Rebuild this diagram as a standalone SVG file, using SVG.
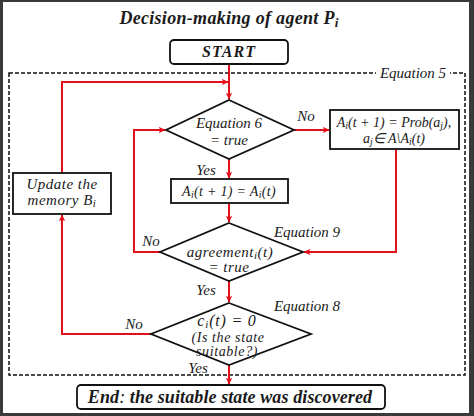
<svg xmlns="http://www.w3.org/2000/svg" width="474" height="416" viewBox="0 0 474 416">
<defs>
<style>
.t{font-family:"Liberation Serif","Times New Roman",serif;font-style:italic;fill:#1a1a1a;}
.b{font-weight:bold;}
.node{fill:#fff;stroke:#111;stroke-width:1.8;}
.red{fill:none;stroke:#e3101b;stroke-width:2;}
</style>
<marker id="ah" viewBox="0 0 10 10" refX="9" refY="5" markerWidth="7" markerHeight="7" markerUnits="userSpaceOnUse" orient="auto">
<path d="M0,0.5 L10,5 L0,9.5 L2.5,5 Z" fill="#e3101b"/>
</marker>
</defs>
<rect x="0" y="0" width="474" height="416" fill="#3a3a3a"/>
<rect x="3" y="2" width="466" height="411" fill="#fff"/>
<text class="t b" x="229" y="24" font-size="18" text-anchor="middle" letter-spacing="0.3">Decision-making of agent P<tspan font-size="13" dy="3">i</tspan></text>

<g id="frame">
<rect x="9" y="73" width="456" height="302" fill="none" stroke="#111" stroke-width="1.5" stroke-dasharray="4,2"/>
<rect x="376" y="66" width="74" height="14" fill="#fff"/>
<text class="t" x="413" y="78" font-size="15" text-anchor="middle">Equation 5</text>
</g>

<g id="connectors">
<path class="red" d="M229,64 V99" marker-end="url(#ah)"/>
<path class="red" d="M62,173 V82 H228" marker-end="url(#ah)"/>
<path class="red" d="M294,130 H329" marker-end="url(#ah)"/>
<path class="red" d="M396,149 V252 H304" marker-end="url(#ah)"/>
<path class="red" d="M229,159 V178" marker-end="url(#ah)"/>
<path class="red" d="M229,203 V222" marker-end="url(#ah)"/>
<path class="red" d="M160,252 H134 V130 H165" marker-end="url(#ah)"/>
<path class="red" d="M229,281 V302" marker-end="url(#ah)"/>
<path class="red" d="M151,334 H62 V215" marker-end="url(#ah)"/>
<path class="red" d="M229,365 V384" marker-end="url(#ah)"/>
<text class="t" x="306" y="121" font-size="15" text-anchor="middle">No</text>
<text class="t" x="206" y="175" font-size="15" text-anchor="middle">Yes</text>
<text class="t" x="151" y="246" font-size="15" text-anchor="middle">No</text>
<text class="t" x="206" y="295" font-size="15" text-anchor="middle">Yes</text>
<text class="t" x="134" y="329" font-size="15" text-anchor="middle">No</text>
<text class="t" x="198" y="373" font-size="15" text-anchor="middle">Yes</text>
</g>

<g id="start">
<rect class="node" x="170" y="40" width="118" height="24" rx="4"/>
<text class="t b" x="229" y="57" font-size="16" text-anchor="middle" letter-spacing="1">START</text>
</g>

<g id="eq6">
<polygon class="node" points="229,100 294,130 229,159 166,130"/>
<text class="t" x="229" y="128" font-size="15" text-anchor="middle">Equation 6</text>
<text class="t" x="229" y="145" font-size="15" text-anchor="middle">= true</text>
</g>

<g id="prob">
<rect class="node" x="330" y="110" width="129" height="39"/>
<text class="t" x="394" y="127" font-size="14" text-anchor="middle">A<tspan font-size="10" dy="2">i</tspan><tspan dy="-2">(t + 1) = Prob(a</tspan><tspan font-size="10" dy="2">j</tspan><tspan dy="-2">),</tspan></text>
<text class="t" x="394" y="143" font-size="14" text-anchor="middle">a<tspan font-size="10" dy="2">j</tspan><tspan dy="-2">∈ A\A</tspan><tspan font-size="10" dy="2">i</tspan><tspan dy="-2">(t)</tspan></text>
</g>

<g id="keep">
<rect class="node" x="171" y="179" width="117" height="24"/>
<text class="t" x="229" y="196" font-size="14" text-anchor="middle" letter-spacing="0.3">A<tspan font-size="10" dy="2">i</tspan><tspan dy="-2">(t + 1) = A</tspan><tspan font-size="10" dy="2">i</tspan><tspan dy="-2">(t)</tspan></text>
</g>

<g id="eq9">
<polygon class="node" points="229,223 303,252 229,281 160,252"/>
<text class="t" x="307" y="237" font-size="15" text-anchor="middle">Equation 9</text>
<text class="t" x="230" y="257" font-size="15" text-anchor="middle" letter-spacing="0.5">agreement<tspan font-size="11" dy="2">i</tspan><tspan dy="-2">(t)</tspan></text>
<text class="t" x="229" y="272" font-size="15" text-anchor="middle" letter-spacing="0.5">= true</text>
</g>

<g id="eq8">
<polygon class="node" points="229,303 311,334 229,365 151,334"/>
<text class="t" x="307" y="311" font-size="15" text-anchor="middle">Equation 8</text>
<text class="t" x="227" y="326" font-size="16" text-anchor="middle" letter-spacing="0.8">c<tspan font-size="11" dy="2">i</tspan><tspan dy="-2">(t) = 0</tspan></text>
<text class="t" x="228" y="342" font-size="14" text-anchor="middle" letter-spacing="0.6">(Is the state</text>
<text class="t" x="227" y="356" font-size="14" text-anchor="middle" letter-spacing="0.6">suitable?)</text>
</g>

<g id="update">
<rect class="node" x="13" y="173" width="98" height="41"/>
<text class="t" x="62" y="189" font-size="15" text-anchor="middle" letter-spacing="0.5">Update the</text>
<text class="t" x="62" y="205" font-size="15" text-anchor="middle" letter-spacing="0.5">memory B<tspan font-size="11" dy="2">i</tspan></text>
</g>

<g id="end">
<rect class="node" x="77" y="385" width="308" height="24" rx="4"/>
<text class="t" x="230" y="403" font-size="18" text-anchor="middle" letter-spacing="0.1"><tspan font-weight="bold">End</tspan>: <tspan font-weight="bold">the suitable state was discovered</tspan></text>
</g>
</svg>
